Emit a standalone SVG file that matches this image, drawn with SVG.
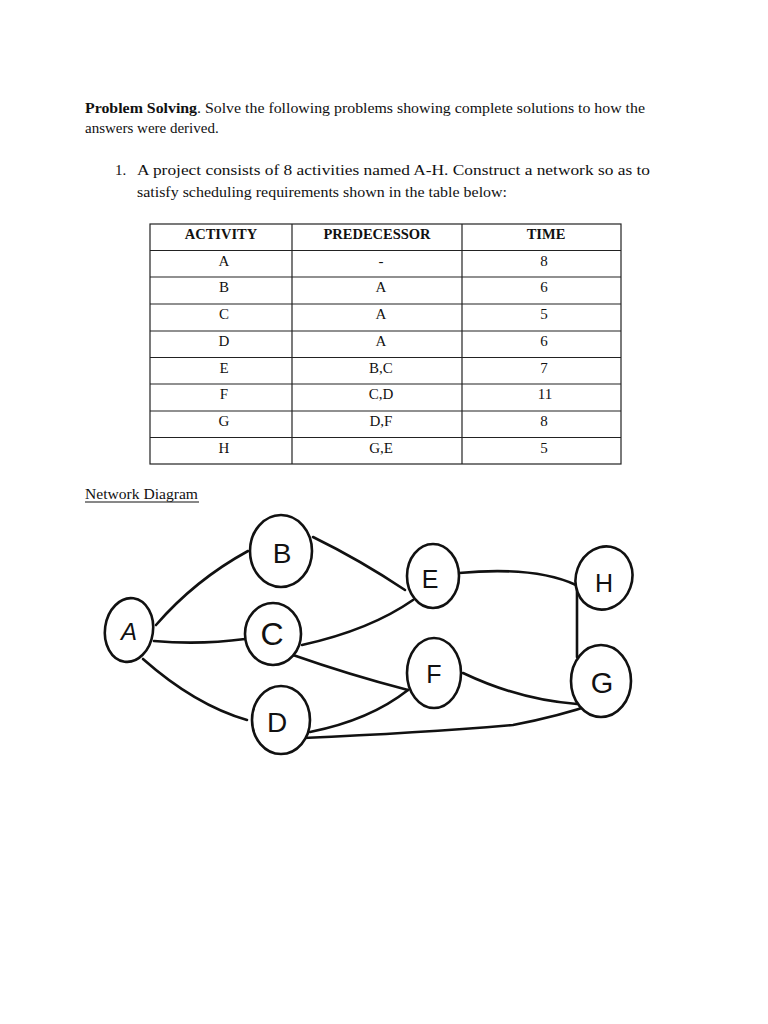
<svg xmlns="http://www.w3.org/2000/svg" width="768" height="1024" viewBox="0 0 768 1024">
<style>
.t{font-family:"Liberation Serif","DejaVu Serif",serif;font-size:15px;fill:#111}
.b{font-weight:bold}
.tc{font-family:"Liberation Serif","DejaVu Serif",serif;font-size:15px;fill:#111;text-anchor:middle}
.th{font-weight:bold;font-size:14.5px}
.grid{stroke:#222;stroke-width:1.2;fill:none}
.node{fill:#fff;stroke:#111;stroke-width:2.6}
.lbl{font-family:"Liberation Sans","DejaVu Sans",sans-serif;font-size:28px;fill:#111;text-anchor:middle}
.edge{fill:none;stroke:#111;stroke-width:2.6;stroke-linecap:round}
</style>
<rect width="768" height="1024" fill="#fff"/>
<g id="intro">
<text class="t" x="85" y="113" textLength="560" lengthAdjust="spacingAndGlyphs"><tspan class="b">Problem Solving</tspan>. Solve the following problems showing complete solutions to how the</text>
<text class="t" x="85" y="133">answers were derived.</text>
<text class="t" x="115" y="175">1.</text>
<text class="t" x="137" y="175" textLength="513" lengthAdjust="spacingAndGlyphs">A project consists of 8 activities named A-H. Construct a network so as to</text>
<text class="t" x="137" y="197" textLength="370" lengthAdjust="spacingAndGlyphs">satisfy scheduling requirements shown in the table below:</text>
</g>
<g id="table">
<rect class="grid" x="150" y="224" width="471" height="240"/>
<line class="grid" x1="292" y1="224" x2="292" y2="464"/>
<line class="grid" x1="462" y1="224" x2="462" y2="464"/>
<line class="grid" x1="150" y1="250.5" x2="621" y2="250.5"/>
<line class="grid" x1="150" y1="277" x2="621" y2="277"/>
<line class="grid" x1="150" y1="304" x2="621" y2="304"/>
<line class="grid" x1="150" y1="331" x2="621" y2="331"/>
<line class="grid" x1="150" y1="357.5" x2="621" y2="357.5"/>
<line class="grid" x1="150" y1="384" x2="621" y2="384"/>
<line class="grid" x1="150" y1="411" x2="621" y2="411"/>
<line class="grid" x1="150" y1="437.5" x2="621" y2="437.5"/>
<text class="tc th" x="221" y="239">ACTIVITY</text>
<text class="tc th" x="377" y="239">PREDECESSOR</text>
<text class="tc th" x="546" y="239">TIME</text>
<text class="tc" x="224" y="266">A</text><text class="tc" x="381" y="266">-</text><text class="tc" x="544" y="266">8</text>
<text class="tc" x="224" y="292">B</text><text class="tc" x="381" y="292">A</text><text class="tc" x="544" y="292">6</text>
<text class="tc" x="224" y="319">C</text><text class="tc" x="381" y="319">A</text><text class="tc" x="544" y="319">5</text>
<text class="tc" x="224" y="346">D</text><text class="tc" x="381" y="346">A</text><text class="tc" x="544" y="346">6</text>
<text class="tc" x="224" y="373">E</text><text class="tc" x="381" y="373">B,C</text><text class="tc" x="544" y="373">7</text>
<text class="tc" x="224" y="399">F</text><text class="tc" x="381" y="399">C,D</text><text class="tc" x="545" y="399">11</text>
<text class="tc" x="224" y="426">G</text><text class="tc" x="381" y="426">D,F</text><text class="tc" x="544" y="426">8</text>
<text class="tc" x="224" y="453">H</text><text class="tc" x="381" y="453">G,E</text><text class="tc" x="544" y="453">5</text>
</g>
<g id="heading">
<text class="t" x="85" y="499" textLength="113" lengthAdjust="spacingAndGlyphs">Network Diagram</text>
<line x1="85" y1="502" x2="199" y2="502" stroke="#111" stroke-width="1"/>
</g>
<g id="connectors">
<path class="edge" d="M156 625 Q195 580 248 551"/>
<path class="edge" d="M154 641 Q200 645 245 639"/>
<path class="edge" d="M143 659 Q195 705 247 720"/>
<path class="edge" d="M313 537 Q360 560 405 590"/>
<path class="edge" d="M302 645 Q370 630 413 600"/>
<path class="edge" d="M293 655 Q350 675 408 690"/>
<path class="edge" d="M310 732 Q370 720 408 690"/>
<path class="edge" d="M303 738 Q420 733 513 725 Q560 716 597 703"/>
<path class="edge" d="M459 573 Q535 566 576 585"/>
<path class="edge" d="M577 587 L577 657"/>
<path class="edge" d="M463 673 Q520 700 577 704"/>
</g>
<g id="node-A"><ellipse class="node" cx="129" cy="630" rx="24" ry="32" transform="rotate(8 129 630)"/><text class="lbl" x="129" y="640" style="font-size:24px;font-style:italic">A</text></g>
<g id="node-B"><ellipse class="node" cx="281" cy="551" rx="31" ry="36"/><text class="lbl" x="282" y="563">B</text></g>
<g id="node-C"><ellipse class="node" cx="273" cy="634" rx="28" ry="31"/><text class="lbl" x="272" y="645" style="font-size:32px">C</text></g>
<g id="node-D"><ellipse class="node" cx="281" cy="720" rx="29" ry="34"/><text class="lbl" x="277" y="732">D</text></g>
<g id="node-E"><ellipse class="node" cx="433" cy="576" rx="26" ry="32"/><text class="lbl" x="430" y="588" style="font-size:25px">E</text></g>
<g id="node-F"><ellipse class="node" cx="434" cy="673" rx="27" ry="35"/><text class="lbl" x="434" y="683" style="font-size:25px">F</text></g>
<g id="node-G"><ellipse class="node" cx="601" cy="681" rx="30" ry="36"/><text class="lbl" x="602" y="693" style="font-size:29px">G</text></g>
<g id="node-H"><ellipse class="node" cx="604" cy="578" rx="28" ry="32" transform="rotate(20 604 578)"/><text class="lbl" x="604" y="592" style="font-size:25px">H</text></g>
</svg>
